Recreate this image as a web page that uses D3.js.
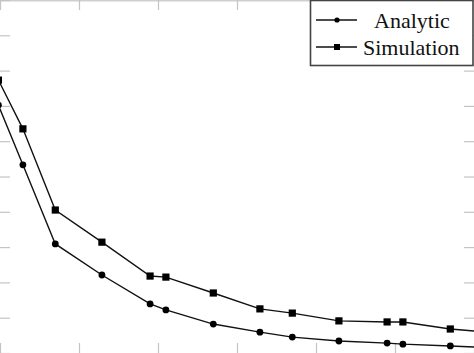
<!DOCTYPE html>
<html>
<head>
<meta charset="utf-8">
<script src="https://cdn.jsdelivr.net/npm/d3@7"></script>
<style>
  body { margin: 0; background: #fff; }
  .axis path { display: none; }
  .axis line { stroke: #c4c4c4; stroke-width: 1.2px; }
</style>
</head>
<body>
<div id="chart"></div>
<script>
// x positions (tick units) of the samples, shared by both curves
const xVals = [-0.02, 0.29, 0.70, 1.29, 1.90, 2.10, 2.70, 3.29, 3.70, 4.29, 4.90, 5.10, 5.70, 6.29];
const analytic = [7.02, 5.33, 3.09, 2.21, 1.39, 1.22, 0.82, 0.59, 0.45, 0.34, 0.28, 0.25, 0.20, 0.14];
const simulation = [7.73, 6.35, 4.05, 3.14, 2.18, 2.15, 1.70, 1.25, 1.13, 0.91, 0.88, 0.88, 0.68, 0.57];
const seriesNames = ["Analytic", "Simulation"];
const xTicks = [0, 1, 2, 3, 4, 5, 6];
const yTicks = [0, 1, 2, 3, 4, 5, 6, 7, 8, 9, 10];

const width = 474, height = 353;

const svg = d3.select("#chart").append("svg")
    .attr("width", width)
    .attr("height", height);

const x = d3.scaleLinear().domain([0, 6]).range([0, width]);
const y = d3.scaleLinear().domain([0, 10]).range([height, 0]);

svg.append("clipPath").attr("id", "clip")
  .append("rect").attr("width", width).attr("height", height);

// frame top line
svg.append("line")
    .attr("x1", 0).attr("x2", width)
    .attr("y1", 0.8).attr("y2", 0.8)
    .attr("stroke", "#cfcfcf").attr("stroke-width", 1.6);

// inward tick marks on all four sides
svg.append("g").attr("class", "axis")
    .attr("transform", "translate(0," + height + ")")
    .call(d3.axisBottom(x).tickValues(xTicks).tickSize(-10).tickFormat(""));
svg.append("g").attr("class", "axis")
    .call(d3.axisTop(x).tickValues(xTicks).tickSize(-10).tickFormat(""));
svg.append("g").attr("class", "axis")
    .call(d3.axisLeft(y).tickValues(yTicks).tickSize(-10).tickFormat(""));
svg.append("g").attr("class", "axis")
    .attr("transform", "translate(" + width + ",0)")
    .call(d3.axisRight(y).tickValues(yTicks).tickSize(-10).tickFormat(""));

const plot = svg.append("g").attr("clip-path", "url(#clip)");

const line = d3.line()
    .x((d, i) => x(xVals[i]))
    .y(d => y(d));

[analytic, simulation].forEach(vals => {
  plot.append("path")
      .attr("fill", "none")
      .attr("stroke", "#111")
      .attr("stroke-width", 1.4)
      .attr("d", line(vals));
});

plot.selectAll(".dot")
  .data(analytic)
  .enter().append("circle")
    .attr("cx", (d, i) => x(xVals[i]))
    .attr("cy", d => y(d))
    .attr("r", 3.4)
    .attr("fill", "#000");

plot.selectAll(".sq")
  .data(simulation)
  .enter().append("rect")
    .attr("x", (d, i) => x(xVals[i]) - 3.6)
    .attr("y", d => y(d) - 3.6)
    .attr("width", 7.2)
    .attr("height", 7.2)
    .attr("fill", "#000");

// legend
const lg = svg.append("g");
lg.append("rect")
    .attr("x", 310.5).attr("y", 0.5)
    .attr("width", 162.5).attr("height", 65)
    .attr("fill", "#fff")
    .attr("stroke", "#444").attr("stroke-width", 1.6);

seriesNames.forEach((name, i) => {
  const ly = 20 + i * 27;
  lg.append("line")
      .attr("x1", 316).attr("x2", 357)
      .attr("y1", ly).attr("y2", ly)
      .attr("stroke", "#111").attr("stroke-width", 1.4);
  if (i === 0) {
    lg.append("circle").attr("cx", 337).attr("cy", ly).attr("r", 2.6).attr("fill", "#000");
  } else {
    lg.append("rect").attr("x", 334).attr("y", ly - 3).attr("width", 6).attr("height", 6).attr("fill", "#000");
  }
  lg.append("text")
      .attr("x", i === 0 ? 374 : 363)
      .attr("y", ly + 8)
      .attr("font-family", "Liberation Serif, Times New Roman, serif")
      .attr("font-size", 22)
      .attr("fill", "#111")
      .text(name);
});
</script>
</body>
</html>
